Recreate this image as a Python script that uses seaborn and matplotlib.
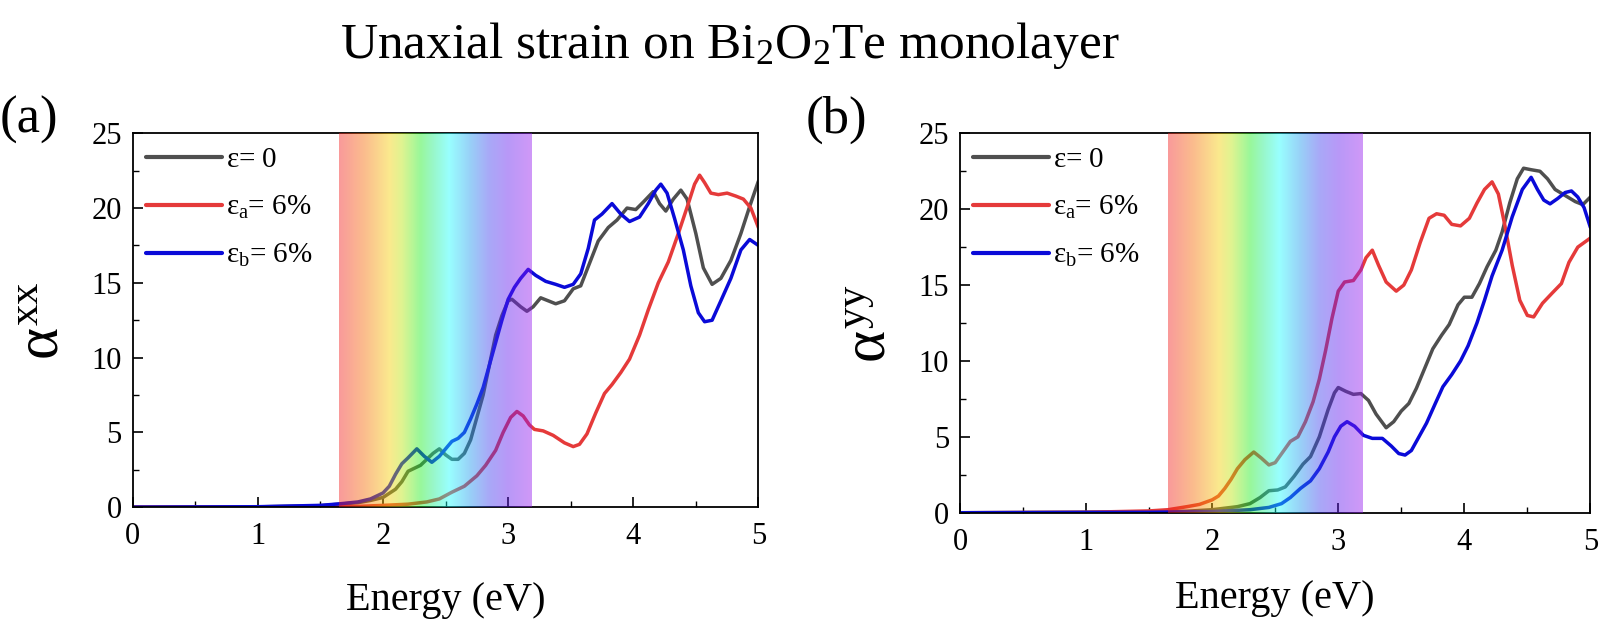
import numpy as np
import pandas as pd
import matplotlib
matplotlib.use("Agg")
import matplotlib.pyplot as plt
from matplotlib.colors import LinearSegmentedColormap
from matplotlib.ticker import MultipleLocator
import seaborn as sns

# ---------------- data ----------------
title = r"Unaxial strain on Bi$_2$O$_2$Te monolayer"
series_labels = [r"$\varepsilon$= 0", r"$\varepsilon_{\rm a}$= 6%", r"$\varepsilon_{\rm b}$= 6%"]
xlabel = "Energy (eV)"
ylabels = [r"$\alpha^{\rm xx}$", r"$\alpha^{\rm yy}$"]
panel_tags = ["(a)", "(b)"]
visible_range = [1.65, 3.19]

# panel (a)  alpha_xx
a_e0_x = [0, 1.0, 1.5, 1.65, 1.8, 1.9, 2.0, 2.1, 2.15, 2.2, 2.25, 2.3, 2.35, 2.4, 2.45, 2.5, 2.55, 2.6, 2.65, 2.7,
          2.75, 2.8, 2.85, 2.9, 2.95, 3.0, 3.03, 3.1, 3.15, 3.2, 3.26, 3.32, 3.38, 3.45, 3.52, 3.58, 3.65, 3.72,
          3.8, 3.87, 3.95, 4.02, 4.08, 4.16, 4.21, 4.26, 4.32, 4.38, 4.43, 4.5, 4.56, 4.63, 4.7, 4.78, 4.86, 4.93, 5.0]
a_e0_y = [0, 0.02, 0.1, 0.2, 0.3, 0.45, 0.65, 1.2, 1.7, 2.4, 2.6, 2.8, 3.2, 3.6, 3.9, 3.5, 3.2, 3.2, 3.6, 4.5,
          6.0, 7.5, 9.5, 11.5, 12.8, 13.8, 13.9, 13.4, 13.1, 13.4, 14.0, 13.8, 13.6, 13.8, 14.6, 14.8, 16.3, 17.8,
          18.7, 19.2, 20.0, 19.9, 20.4, 21.1, 20.3, 19.8, 20.6, 21.2, 20.6, 18.3, 16.0, 14.9, 15.3, 16.5, 18.3, 20.1, 21.8]

a_ea_x = [0, 1.5, 1.8, 2.0, 2.2, 2.35, 2.45, 2.55, 2.65, 2.75, 2.82, 2.9, 2.96, 3.02, 3.07, 3.12, 3.17, 3.21,
          3.28, 3.36, 3.45, 3.52, 3.57, 3.63, 3.7, 3.77, 3.83, 3.9, 3.97, 4.05, 4.12, 4.2, 4.28, 4.36, 4.44, 4.49,
          4.53, 4.57, 4.62, 4.68, 4.75, 4.82, 4.88, 4.94, 5.0]
a_ea_y = [0, 0.02, 0.05, 0.12, 0.2, 0.35, 0.55, 1.0, 1.4, 2.1, 2.8, 3.8, 5.0, 6.0, 6.4, 6.1, 5.5, 5.2,
          5.1, 4.8, 4.3, 4.05, 4.2, 4.9, 6.3, 7.6, 8.2, 9.0, 9.9, 11.5, 13.2, 15.0, 16.4, 18.3, 20.3, 21.6,
          22.2, 21.7, 21.0, 20.9, 21.0, 20.8, 20.6, 20.0, 18.7]

a_eb_x = [0, 1.0, 1.5, 1.65, 1.8, 1.9, 2.0, 2.05, 2.1, 2.15, 2.2, 2.27, 2.33, 2.39, 2.45, 2.5, 2.55, 2.6, 2.65,
          2.7, 2.75, 2.8, 2.85, 2.9, 2.95, 3.0, 3.05, 3.1, 3.16, 3.22, 3.3, 3.38, 3.45, 3.52, 3.58, 3.64, 3.69,
          3.75, 3.83, 3.9, 3.97, 4.05, 4.12, 4.18, 4.22, 4.27, 4.33, 4.4, 4.46, 4.52, 4.57, 4.63, 4.7, 4.78, 4.86,
          4.93, 5.0]
a_eb_y = [0, 0.03, 0.12, 0.22, 0.35, 0.55, 0.95, 1.4, 2.2, 2.9, 3.3, 3.9, 3.4, 3.0, 3.4, 3.9, 4.4, 4.6, 5.0,
          5.9, 6.9, 8.0, 9.5, 11.0, 12.5, 13.9, 14.7, 15.3, 15.9, 15.5, 15.1, 14.9, 14.7, 14.9, 15.6, 17.3, 19.2,
          19.6, 20.3, 19.6, 19.1, 19.4, 20.3, 21.2, 21.6, 21.0, 19.3, 17.2, 14.8, 13.0, 12.4, 12.5, 13.8, 15.3, 17.2,
          17.9, 17.5]

# panel (b)  alpha_yy
b_e0_x = [0, 1.5, 1.8, 2.0, 2.2, 2.3, 2.38, 2.45, 2.52, 2.58, 2.65, 2.72, 2.78, 2.85, 2.92, 2.97, 3.0, 3.06,
          3.12, 3.18, 3.24, 3.3, 3.38, 3.44, 3.5, 3.56, 3.62, 3.68, 3.75, 3.82, 3.88, 3.95, 4.0, 4.06, 4.12, 4.18,
          4.25, 4.3, 4.36, 4.42, 4.47, 4.53, 4.6, 4.66, 4.72, 4.8, 4.88, 4.94, 5.0]
b_e0_y = [0, 0.05, 0.1, 0.2, 0.4, 0.6, 1.0, 1.45, 1.5, 1.7, 2.4, 3.2, 3.7, 5.0, 6.8, 7.9, 8.25, 8.0,
          7.8, 7.85, 7.4, 6.5, 5.6, 6.0, 6.7, 7.2, 8.2, 9.4, 10.8, 11.7, 12.4, 13.7, 14.2, 14.2, 15.1, 16.2,
          17.3, 18.5, 20.4, 22.0, 22.7, 22.6, 22.5, 22.0, 21.3, 20.9, 20.5, 20.3, 20.8]

b_ea_x = [0, 1.0, 1.5, 1.65, 1.8, 1.9, 2.0, 2.05, 2.1, 2.15, 2.2, 2.26, 2.33, 2.39, 2.45, 2.5, 2.56, 2.62, 2.68,
          2.74, 2.8, 2.85, 2.9, 2.95, 3.0, 3.05, 3.12, 3.18, 3.22, 3.27, 3.32, 3.38, 3.46, 3.52, 3.58, 3.65, 3.72,
          3.78, 3.84, 3.9, 3.97, 4.04, 4.1, 4.16, 4.22, 4.27, 4.32, 4.38, 4.44, 4.5, 4.55, 4.62, 4.7, 4.77, 4.83,
          4.9, 5.0]
b_ea_y = [0, 0.03, 0.12, 0.2, 0.4, 0.55, 0.85, 1.1, 1.6, 2.2, 2.9, 3.5, 4.0, 3.6, 3.15, 3.3, 4.0, 4.7, 5.0,
          6.0, 7.3, 8.8, 10.7, 12.8, 14.6, 15.2, 15.3, 16.0, 16.8, 17.3, 16.3, 15.2, 14.6, 15.0, 16.0, 17.8, 19.4,
          19.7, 19.6, 19.0, 18.9, 19.4, 20.4, 21.3, 21.8, 21.0, 19.0, 16.3, 14.0, 13.0, 12.9, 13.8, 14.5, 15.1, 16.5,
          17.5, 18.1]

b_eb_x = [0, 1.5, 2.0, 2.3, 2.45, 2.55, 2.62, 2.7, 2.78, 2.85, 2.92, 2.97, 3.02, 3.07, 3.13, 3.2, 3.27, 3.35,
          3.42, 3.48, 3.53, 3.58, 3.64, 3.7, 3.77, 3.83, 3.9, 3.97, 4.03, 4.1, 4.16, 4.22, 4.3, 4.38, 4.46, 4.53,
          4.58, 4.63, 4.68, 4.74, 4.8, 4.85, 4.9, 4.95, 5.0]
b_eb_y = [0, 0.03, 0.08, 0.2, 0.35, 0.6, 1.0, 1.6, 2.1, 2.9, 4.0, 5.0, 5.7, 6.0, 5.7, 5.1, 4.9, 4.9,
          4.4, 3.9, 3.8, 4.1, 5.0, 5.9, 7.2, 8.3, 9.1, 10.0, 11.0, 12.5, 14.0, 15.6, 17.3, 19.5, 21.3, 22.1,
          21.3, 20.6, 20.35, 20.7, 21.1, 21.2, 20.8, 20.1, 18.8]

# spectrum colour stops (energy in eV)
band_stops = [1.65, 1.85, 2.05, 2.15, 2.3, 2.4, 2.53, 2.7, 2.85, 3.0, 3.19]
band_colors = ["#f21e1e", "#f66a00", "#f6ce00", "#bae608", "#1aef1e", "#1aef85",
               "#1affff", "#1a96ef", "#3e3eef", "#611aef", "#961aef"]

line_colors = ["#4f4f4f", "#e53a3a", "#0a0ad8"]

# ---------------- style ----------------
sns.set_style("ticks")
plt.rcParams["font.family"] = ["Liberation Serif", "DejaVu Serif"]
plt.rcParams["mathtext.fontset"] = "custom"
plt.rcParams["mathtext.rm"] = "Liberation Serif"
plt.rcParams["mathtext.it"] = "Liberation Serif"
plt.rcParams["mathtext.bf"] = "Liberation Serif:bold"
plt.rcParams["mathtext.fallback"] = "stix"
plt.rcParams["axes.linewidth"] = 1.3
for k in ["text.color", "axes.labelcolor", "xtick.color", "ytick.color", "axes.edgecolor"]:
    plt.rcParams[k] = "black"

fig = plt.figure(figsize=(16, 6.2), dpi=100)
ax_a = fig.add_axes([0.083, 0.182, 0.391, 0.603])
ax_b = fig.add_axes([0.600, 0.173, 0.394, 0.612])

panels = [
    (ax_a, [(a_e0_x, a_e0_y), (a_ea_x, a_ea_y), (a_eb_x, a_eb_y)], -0.200),
    (ax_b, [(b_e0_x, b_e0_y), (b_ea_x, b_ea_y), (b_eb_x, b_eb_y)], -0.176),
]

lo, hi = visible_range
pos = [(s - lo) / (hi - lo) for s in band_stops]
cmap = LinearSegmentedColormap.from_list("vis", list(zip(pos, band_colors)))
grad = np.linspace(0, 1, 512).reshape(1, -1)

for i, (ax, data, xl_y) in enumerate(panels):
    for (xs, ys), lab, col in zip(data, series_labels, line_colors):
        df = pd.DataFrame({"E": xs, "a": ys})
        sns.lineplot(data=df, x="E", y="a", ax=ax, color=col, linewidth=2.5,
                     label=lab, estimator=None, sort=False, zorder=2)
    for ln in ax.get_lines():
        ln.set_solid_joinstyle("round")
    ax.imshow(grad, extent=[lo, hi, 0, 25], aspect="auto", cmap=cmap,
              alpha=0.45, zorder=3, interpolation="bilinear")
    ax.set_xlim(0, 5)
    ax.set_ylim(0, 25)
    ax.xaxis.set_major_locator(MultipleLocator(1))
    ax.xaxis.set_minor_locator(MultipleLocator(0.5))
    ax.yaxis.set_major_locator(MultipleLocator(5))
    ax.yaxis.set_minor_locator(MultipleLocator(2.5))
    ax.tick_params(which="major", direction="in", length=7, width=1.2,
                   labelsize=22, colors="black")
    ax.tick_params(axis="x", which="major", pad=11)
    ax.tick_params(axis="y", which="major", pad=8)
    ax.tick_params(which="minor", direction="in", length=4, width=1.0)
    for sp in ax.spines.values():
        sp.set_visible(True)
        sp.set_color("black")
    ax.set_xlabel(xlabel, fontsize=29, va="top")
    ax.xaxis.set_label_coords(0.5, xl_y)
    ax.set_ylabel(ylabels[i], fontsize=44, labelpad=14)
    leg = ax.legend(loc="upper left", frameon=False, fontsize=21, handlelength=2.6,
                    handletextpad=0.15, labelspacing=0.72, borderaxespad=0.15,
                    borderpad=0.3)
    for h in leg.get_lines():
        h.set_linewidth(3.0)
    leg.set_zorder(6)

fig.text(0.456, 0.926, title, ha="center", va="center", fontsize=37)
fig.text(0.018, 0.806, panel_tags[0], ha="center", va="center", fontsize=38)
fig.text(0.523, 0.806, panel_tags[1], ha="center", va="center", fontsize=38)

fig.savefig("out.png", dpi=100)
